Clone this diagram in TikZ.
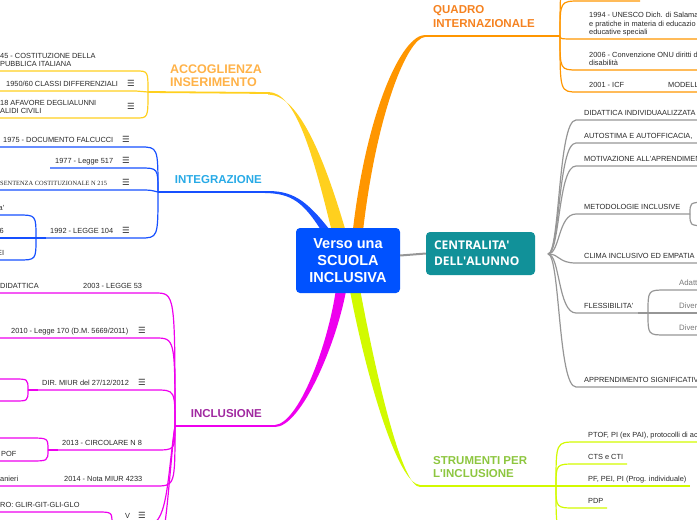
\documentclass[tikz,border=0pt]{standalone}
\usepackage{fontspec}
\setmainfont{Liberation Sans}
\newfontfamily\icofont{DejaVu Sans}
\newfontfamily\serfont{Liberation Serif}
\newfontfamily\boxfont{Open Sans}

\definecolor{hubblue}{RGB}{0,82,255}
\definecolor{studteal}{RGB}{17,145,153}
\definecolor{accline}{RGB}{255,208,30}
\definecolor{acctext}{RGB}{255,178,72}
\definecolor{intline}{RGB}{22,80,255}
\definecolor{inttext}{RGB}{40,170,230}
\definecolor{incline}{RGB}{238,0,238}
\definecolor{inctext}{RGB}{160,40,160}
\definecolor{qualine}{RGB}{255,150,0}
\definecolor{quatext}{RGB}{245,130,32}
\definecolor{strline}{RGB}{210,250,0}
\definecolor{strtext}{RGB}{141,198,63}
\definecolor{cenline}{RGB}{150,150,150}
\definecolor{txtgrey}{RGB}{40,40,40}
\definecolor{subgrey}{RGB}{120,120,120}

\tikzset{
  lbl/.style={anchor=south west, inner sep=0pt, text depth=0pt, align=left,
    font=\fontsize{7.4}{8.6}\selectfont, text=txtgrey},
  ico/.style={anchor=south west, inner sep=0pt, text depth=0pt,
    font=\icofont\fontsize{8.5}{9}\selectfont, text=txtgrey},
  ttl/.style={inner sep=0pt, text depth=0pt, align=left,
    font=\bfseries\fontsize{11.5}{13.5}\selectfont},
  twig/.style={line width=1.2pt},
  bough/.style={line width=1.8pt},
  hubbox/.style={fill=hubblue, rounded corners=4pt, minimum width=104pt, minimum height=65pt,
    inner sep=0pt, align=center, text=white, font=\bfseries\fontsize{14.5}{17.4}\selectfont},
  studbox/.style={fill=studteal, rounded corners=4pt, minimum height=43pt, text width=93pt,
    inner xsep=8pt, inner ysep=0pt, align=left, text=white,
    font=\boxfont\bfseries\fontsize{12}{16}\selectfont}
}

\begin{document}
\begin{tikzpicture}[x=1pt,y=-1pt]
\useasboundingbox (0,0) rectangle (697,520);
\clip (0,0) rectangle (697,520);
\coordinate (lft) at (0,0);
\coordinate (rgt) at (697,0);

% boughs from the hub
\fill[accline] (268,92) .. controls (295,92) and (312,150) .. (332,232) -- (346,232)
  .. controls (322,150) and (297,94.5) .. (268,94.5) -- cycle;
\fill[intline] (265,191) .. controls (292,190.5) and (306,199) .. (331.4,232) -- (324.6,236)
  .. controls (304,202) and (292,193.5) .. (265,193) -- cycle;
\fill[incline] (275,425) .. controls (299,423) and (328,345) .. (336,289) -- (346,291)
  .. controls (336,345) and (301,427) .. (275,427) -- cycle;
\fill[strline] (420,485) .. controls (398,484) and (367,380) .. (350,291) -- (360,289)
  .. controls (377,380) and (402,487) .. (420,487) -- cycle;
\fill[qualine] (425,35) .. controls (402,35) and (367,110) .. (353,229) -- (363,231)
  .. controls (377,110) and (408,38) .. (425,37) -- cycle;

\node[hubbox] (verso) at (348,260.5) {Verso una\\SCUOLA\\INCLUSIVA};
\node[studbox] (centr) at (480.5,253.5) {CENTRALITA\textquotesingle\\DELL\textquotesingle ALUNNO};
\draw[line width=2pt, cenline] ([yshift=5pt]verso.east) -- (centr.west);

% accoglienza
\coordinate (jacc) at (148,92);
\coordinate (acc) at (268,93);
\coordinate (a1) at (136,71);
\coordinate (a2) at (136,91);
\coordinate (a3) at (136,118);
\draw[bough, accline] (jacc) -- (acc);
\draw[twig, accline] (jacc) .. controls (jacc |- a1) .. (a1) -- (a1 -| lft);
\draw[twig, accline] (jacc) -- (a2) -- (a2 -| lft);
\draw[twig, accline] (jacc) .. controls (jacc |- a3) .. (a3) -- (a3 -| lft);
\node[ttl, anchor=south east, text=acctext, font=\bfseries\fontsize{12.5}{13.5}\selectfont] (acclab) at (262,87) {ACCOGLIENZA\\INSERIMENTO};
\node[lbl] (acc1) at (0,67) {45 - COSTITUZIONE DELLA\\PUBBLICA ITALIANA};
\node[lbl] (acc2) at (6,87) {1950/60 CLASSI DIFFERENZIALI};
\node[ico] (acc2i) at (127,87) {☰};
\node[lbl] (acc3) at (0,114) {18 AFAVORE DEGLIALUNNI\\ALIDI CIVILI};
\node[ico] (acc3i) at (127,110) {☰};

% integrazione
\coordinate (jint) at (158,192);
\coordinate (int) at (265,192);
\coordinate (i1) at (140,147);
\coordinate (i2) at (140,168);
\coordinate (i2s) at (50,168);
\coordinate (i3) at (140,190);
\coordinate (i4) at (140,238);
\coordinate (j104) at (36,238);
\coordinate (k1) at (18,215);
\coordinate (k2) at (18,238);
\coordinate (k3) at (18,260);
\draw[bough, intline] (jint) -- (int);
\draw[twig, intline] (jint) .. controls (jint |- i1) .. (i1) -- (i1 -| lft);
\draw[twig, intline] (jint) .. controls (jint |- i2) .. (i2) -- (i2s);
\draw[twig, intline] (jint) .. controls (150,190) .. (i3) -- (i3 -| lft);
\draw[twig, intline] (jint) .. controls (jint |- i4) .. (i4) -- (j104);
\draw[bough, intline] (j104) -- ++(10,0);
\draw[twig, intline] (j104) .. controls (j104 |- k1) .. (k1) -- (k1 -| lft);
\draw[twig, intline] (j104) -- (k2) -- (k2 -| lft);
\draw[twig, intline] (j104) .. controls (j104 |- k3) .. (k3) -- (k3 -| lft);
\node[ttl, anchor=south east, text=inttext] (intlab) at (262,184) {INTEGRAZIONE};
\node[lbl] (int1) at (3,143) {1975 - DOCUMENTO FALCUCCI};
\node[ico] (int1i) at (122,143) {☰};
\node[lbl] (int2) at (55,164) {1977 - Legge 517};
\node[ico] (int2i) at (122,164) {☰};
\node[lbl, font=\serfont\fontsize{6.4}{7}\selectfont] (int3) at (0,186) {SENTENZA COSTITUZIONALE N 215};
\node[ico] (int3i) at (122,186) {☰};
\node[lbl] (int4) at (50,234) {1992 - LEGGE 104};
\node[ico] (int4i) at (122,234) {☰};
\node[lbl] (k1t) at (-1.5,211) {a\textquotesingle};
\node[lbl] (k2t) at (-0.5,234) {6};
\node[lbl] (k3t) at (-3,256) {EI};

% inclusione
\coordinate (jinc) at (175,426);
\coordinate (inc) at (275,426);
\coordinate (n1) at (155,293);
\coordinate (n2) at (155,338);
\coordinate (n3) at (155,390);
\coordinate (jmiur) at (28,390);
\coordinate (m1) at (14,379);
\coordinate (m2) at (14,401);
\coordinate (n4) at (155,450);
\coordinate (jcirc) at (48,450);
\coordinate (p1) at (30,438);
\coordinate (p2) at (30,461);
\coordinate (n5) at (155,486);
\coordinate (n7) at (150,524);
\coordinate (jglir) at (112,524);
\coordinate (g1) at (97,512);
\coordinate (n8) at (150,566);
\draw[bough, incline] (jinc) -- (inc);
\draw[twig, incline] (jinc) .. controls (jinc |- n1) .. (n1) -- (n1 -| lft);
\draw[twig, incline] (jinc) .. controls (jinc |- n2) .. (n2) -- (n2 -| lft);
\draw[twig, incline] (jinc) .. controls (jinc |- n3) .. (n3) -- (jmiur);
\draw[bough, incline] (jmiur) -- ++(10,0);
\draw[twig, incline] (jmiur) .. controls (jmiur |- m1) .. (m1) -- (m1 -| lft);
\draw[twig, incline] (jmiur) .. controls (jmiur |- m2) .. (m2) -- (m2 -| lft);
\draw[twig, incline] (jinc) .. controls (jinc |- n4) .. (n4) -- (jcirc);
\draw[bough, incline] (jcirc) -- ++(10,0);
\draw[twig, incline] (jcirc) .. controls (jcirc |- p1) .. (p1) -- (p1 -| lft);
\draw[twig, incline] (jcirc) .. controls (jcirc |- p2) .. (p2) -- (p2 -| lft);
\draw[twig, incline] (jinc) .. controls (jinc |- n5) .. (n5) -- (n5 -| lft);
\draw[twig, incline] (jinc) .. controls (168,470) and (168,524) .. (n7) -- (jglir);
\draw[twig, incline] (jglir) .. controls (jglir |- g1) .. (g1) -- (g1 -| lft);
\draw[twig, incline] (jinc) .. controls (168,480) and (166,566) .. (n8) -- (n8 -| lft);
\node[ttl, anchor=south east, text=inctext] (inclab) at (262,418) {INCLUSIONE};
\node[lbl] (inc1a) at (0,289) {DIDATTICA};
\node[lbl] (inc1) at (83,289) {2003 - LEGGE 53};
\node[lbl] (inc2) at (11,334) {2010 - Legge 170 (D.M. 5669/2011)};
\node[ico] (inc2i) at (138,334) {☰};
\node[lbl] (inc3) at (42,386) {DIR. MIUR del 27/12/2012};
\node[ico] (inc3i) at (138,386) {☰};
\node[lbl] (inc4) at (62,446) {2013 - CIRCOLARE N 8};
\node[lbl] (p2t) at (1,457) {POF};
\node[lbl] (inc5a) at (0,482) {anieri};
\node[lbl] (inc5) at (64,482) {2014 - Nota MIUR 4233};
\node[lbl] (g1t) at (0,508) {RO: GLIR-GIT-GLI-GLO};
\node[lbl] (inc7) at (125,519) {V};
\node[ico] (inc7i) at (138,519) {☰};

% quadro internazionale
\coordinate (jqua) at (560,36);
\coordinate (qua) at (425,36);
\coordinate (q0) at (585,-25);
\coordinate (q1) at (580,1);
\coordinate (q1e) at (640,1);
\coordinate (q2) at (578,39);
\coordinate (q3) at (578,70);
\coordinate (q4) at (578,92);
\draw[bough, qualine] (qua) -- (jqua);
\draw[twig, qualine] (jqua) .. controls (jqua |- q0) .. (q0) -- (q0 -| rgt);
\draw[twig, qualine] (jqua) .. controls (jqua |- q1) .. (q1) -- (q1e);
\draw[twig, qualine] (jqua) .. controls (jqua |- q2) .. (q2) -- (q2 -| rgt);
\draw[twig, qualine] (jqua) .. controls (jqua |- q3) .. (q3) -- (q3 -| rgt);
\draw[twig, qualine] (jqua) .. controls (jqua |- q4) .. (q4) -- (q4 -| rgt);
\node[ttl, anchor=south west, text=quatext] (qualab) at (433,27.5) {QUADRO\\INTERNAZIONALE};
\node[lbl] (qua2) at (589,35) {1994 - UNESCO Dich. di Salama\\e pratiche in materia di educazio\\educative speciali};
\node[lbl] (qua3) at (589,66) {2006 - Convenzione ONU diritti d\\disabilità};
\node[lbl] (qua4) at (589,88) {2001 - ICF};
\node[lbl] (qua4b) at (668,88) {MODELL};

% centralita' dell'alunno
\coordinate (jcen) at (548,254);
\coordinate (c1) at (576,120);
\coordinate (c2) at (576,143);
\coordinate (c3) at (576,166);
\coordinate (c4) at (576,214);
\coordinate (jmet) at (690,214);
\coordinate (c5) at (576,263);
\coordinate (c6) at (576,313);
\coordinate (jfl) at (648,313);
\coordinate (f1) at (666,290);
\coordinate (f3) at (666,335);
\coordinate (c7) at (576,387);
\draw[twig, cenline] (jcen) .. controls (560,254) and (558,120) .. (c1) -- (c1 -| rgt);
\draw[twig, cenline] (jcen) .. controls (560,254) and (558,143) .. (c2) -- (c2 -| rgt);
\draw[twig, cenline] (jcen) .. controls (560,254) and (558,166) .. (c3) -- (c3 -| rgt);
\draw[twig, cenline] (jcen) .. controls (560,254) and (558,214) .. (c4) -- (jmet);
\draw[twig, cenline] (jmet) .. controls (690,203) .. (702,202);
\draw[twig, cenline] (jmet) .. controls (690,225) .. (702,226);
\draw[twig, cenline] (jcen) .. controls (560,254) and (558,263) .. (c5) -- (c5 -| rgt);
\draw[twig, cenline] (jcen) .. controls (560,254) and (558,313) .. (c6) -- (jfl);
\draw[bough, cenline] (jfl) -- ++(-10,0);
\draw[twig, cenline] (jfl) .. controls (jfl |- f1) .. (f1) -- (f1 -| rgt);
\draw[twig, cenline] (jfl) -- (jfl -| rgt);
\draw[twig, cenline] (jfl) .. controls (jfl |- f3) .. (f3) -- (f3 -| rgt);
\draw[twig, cenline] (jcen) .. controls (560,254) and (558,387) .. (c7) -- (c7 -| rgt);
\node[lbl] (cen1) at (584,116) {DIDATTICA INDIVIDUAALIZZATA};
\node[lbl] (cen2) at (584,139) {AUTOSTIMA E AUTOFFICACIA,};
\node[lbl] (cen3) at (584,162) {MOTIVAZIONE ALL\textquotesingle APRENDIMEN};
\node[lbl] (cen4) at (584,210) {METODOLOGIE INCLUSIVE};
\node[lbl] (cen5) at (584,259) {CLIMA INCLUSIVO ED EMPATIA};
\node[lbl] (cen6) at (584,309) {FLESSIBILITA\textquotesingle};
\node[lbl, text=subgrey, font=\fontsize{7.8}{9}\selectfont] (fl1) at (679,286) {Adatt};
\node[lbl, text=subgrey, font=\fontsize{7.8}{9}\selectfont] (fl2) at (679,309) {Diver};
\node[lbl, text=subgrey, font=\fontsize{7.8}{9}\selectfont] (fl3) at (679,331) {Diver};
\node[lbl] (cen7) at (584,383) {APPRENDIMENTO SIGNIFICATIV};

% strumenti per l'inclusione
\coordinate (jstr) at (556,486);
\coordinate (str) at (420,486);
\coordinate (s1) at (576,442);
\coordinate (s2) at (576,464);
\coordinate (s2e) at (627,464);
\coordinate (s3e) at (690,486);
\coordinate (s4) at (576,508);
\coordinate (s4e) at (607,508);
\coordinate (s5) at (576,535);
\coordinate (s5e) at (650,535);
\draw[bough, strline] (str) -- (jstr);
\draw[twig, strline] (jstr) .. controls (jstr |- s1) .. (s1) -- (s1 -| rgt);
\draw[twig, strline] (jstr) .. controls (jstr |- s2) .. (s2) -- (s2e);
\draw[twig, strline] (jstr) -- (s3e);
\draw[twig, strline] (jstr) .. controls (jstr |- s4) .. (s4) -- (s4e);
\draw[twig, strline] (jstr) .. controls (jstr |- s5) .. (s5) -- (s5e);
\node[ttl, anchor=south west, text=strtext] (strlab) at (433,478) {STRUMENTI PER\\L\textquotesingle INCLUSIONE};
\node[lbl] (str1) at (588,438) {PTOF, PI (ex PAI), protocolli di ac};
\node[lbl] (str2) at (588,460) {CTS e CTI};
\node[lbl] (str3) at (588,482) {PF, PEI, PI (Prog. individuale)};
\node[lbl] (str4) at (588,504) {PDP};
\end{tikzpicture}
\end{document}
